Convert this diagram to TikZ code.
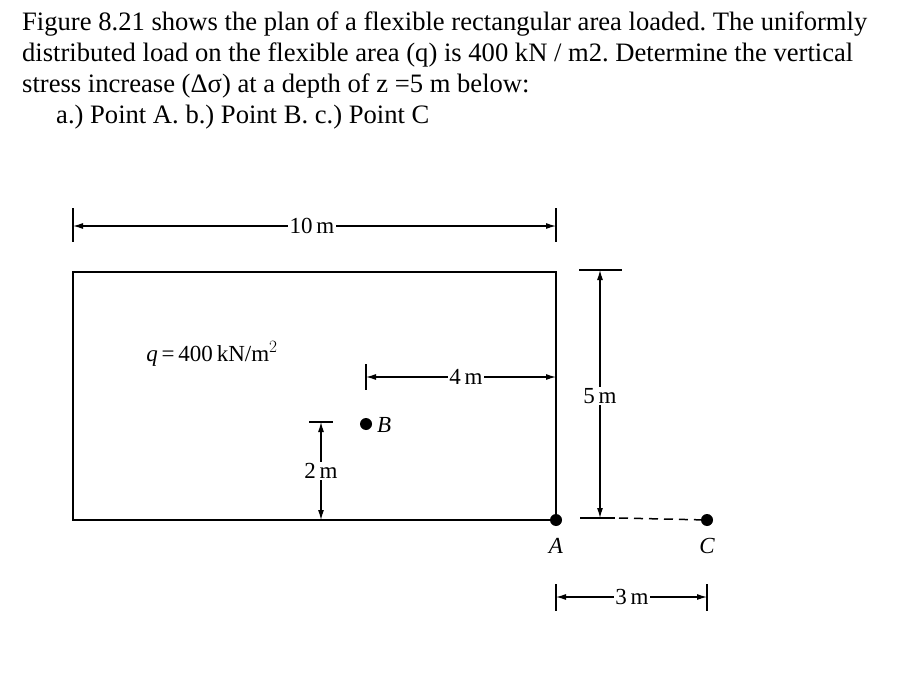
\documentclass[tikz,border=0pt]{standalone}
\usepackage{fontspec}
\setmainfont{Liberation Serif}
\usetikzlibrary{arrows.meta}
\begin{document}
\frenchspacing
\begin{tikzpicture}[x=1pt,y=-1pt,
  dim/.style={line width=1.1pt,-{Latex[length=10pt,width=6pt]}},
  lab/.style={fill=white,inner sep=1.5pt,font=\fontsize{23}{25}\selectfont},
  hdr/.style={anchor=west,inner sep=0pt,font=\fontsize{26.6}{30}\selectfont},
  dotn/.style={circle,fill=black,inner sep=0pt,minimum size=12pt}]
\useasboundingbox (0,0) rectangle (916,682);
\node[hdr] (h1) at (22,24) {Figure 8.21 shows the plan of a flexible rectangular area loaded. The uniformly};
\node[hdr] (h2) at (22,55) {distributed load on the flexible area (q) is 400 kN / m2. Determine the vertical};
\node[hdr] (h3) at (22,86) {stress increase (Δσ) at a depth of z =5 m below:};
\node[hdr] (h4) at (56,117) {a.) Point A. b.) Point B. c.) Point C};
\draw[line width=1.4pt] (73,272) rectangle (556,520);
\node[dotn] (A) at (556,520) {};
\node[dotn] (C) at (707,520) {};
\node[dotn] (B) at (366,424) {};
\node[lab,anchor=west,inner sep=0pt] (Bl) at (377,425) {\itshape B};
\node[lab] (Al) at (556,546) {\itshape A};
\node[lab] (Cl) at (707,546) {\itshape C};
\node[lab] (q) at (212,354) {\itshape q\upshape\,=\,400\,kN/m$^2$};
% 10 m
\coordinate (t1) at (73,226); \coordinate (t2) at (556,226);
\draw[line width=1.1pt] (73,208) -- (73,242) (556,208) -- (556,242);
\draw[dim] (312,226) -- (t1); \draw[dim] (312,226) -- (t2);
\node[lab] (l10) at (312,226) {10\,m};
% 4 m
\coordinate (f1) at (366,377); \coordinate (f2) at (556,377);
\draw[line width=1.1pt] (366,364) -- (366,390);
\draw[dim] (466,377) -- (f1); \draw[dim] (466,377) -- (f2);
\node[lab] (l4) at (466,377) {4\,m};
% 2 m
\coordinate (w1) at (321,422); \coordinate (w2) at (321,520);
\draw[line width=1.1pt] (309,422) -- (333,422);
\draw[dim] (321,472) -- (w1); \draw[dim] (321,472) -- (w2);
\node[lab] (l2) at (321,471) {2\,m};
% 5 m
\coordinate (v1) at (600,270); \coordinate (v2) at (600,518);
\draw[line width=1.1pt] (579,270) -- (622,270) (580,518) -- (615,518);
\draw[line width=1.5pt,dash pattern=on 9pt off 6pt] (619,518) -- (C);
\draw[dim] (600,396) -- (v1); \draw[dim] (600,396) -- (v2);
\node[lab] (l5) at (600,396) {5\,m};
% 3 m
\coordinate (r1) at (556,597); \coordinate (r2) at (707,597);
\draw[line width=1.1pt] (556,584) -- (556,611) (707,584) -- (707,611);
\draw[dim] (632,597) -- (r1); \draw[dim] (632,597) -- (r2);
\node[lab] (l3) at (632,597) {3\,m};
\end{tikzpicture}
\end{document}
